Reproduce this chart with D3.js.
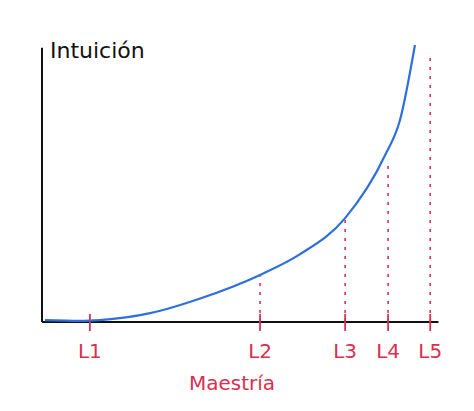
<!DOCTYPE html>
<html><head><meta charset="utf-8">
<script src="https://cdn.jsdelivr.net/npm/d3@7"></script>
<style>body{margin:0;background:#fff}</style>
</head><body>
<svg id="c" width="474" height="411"></svg>
<script>
// curve of intuition vs mastery, hand sketch
var curveX = [0.7, 9.2, 14, 26.2, 38.3, 52.8, 62.5, 73.4, 83, 86.7, 90.3];
var curveY = [0.7, 0.4, 0.7, 3.2, 8.5, 17, 24.5, 37.5, 60, 73, 100];
var levels = ['L1', 'L2', 'L3', 'L4', 'L5'];
var levelX = [11.6, 52.8, 73.4, 83.8, 94];
var levelTop = [0, 16.5, 38.5, 57, 97];

var svg = d3.select('#c'),
    x = d3.scaleLinear().domain([0, 100]).range([42, 455]),
    y = d3.scaleLinear().domain([0, 100]).range([322, 45]);

var red = '#d9304f';

// axes
svg.append('line').attr('x1', x(0)).attr('x2', x(0)).attr('y1', y(0)).attr('y2', y(99))
  .attr('stroke', '#111').attr('stroke-width', 2);
svg.append('line').attr('x1', x(0)).attr('x2', x(96)).attr('y1', y(0)).attr('y2', y(0))
  .attr('stroke', '#111').attr('stroke-width', 2);

// red dashed verticals
levels.forEach(function (l, i) {
  if (levelTop[i] > 0) {
    svg.append('line').attr('x1', x(levelX[i])).attr('x2', x(levelX[i]))
      .attr('y1', y(0)).attr('y2', y(levelTop[i]))
      .attr('stroke', red).attr('stroke-width', 1.6).attr('stroke-dasharray', '3,6');
  }
  svg.append('line').attr('x1', x(levelX[i])).attr('x2', x(levelX[i]))
    .attr('y1', y(0) - 8).attr('y2', y(0) + 9)
    .attr('stroke', red).attr('stroke-width', 1.8);
  svg.append('text').attr('x', x(levelX[i])).attr('y', 358)
    .attr('text-anchor', 'middle').attr('fill', red)
    .style('font', '20px "DejaVu Sans"').text(l);
});

// blue curve
var line = d3.line().x(function (d) { return x(d[0]); }).y(function (d) { return y(d[1]); })
  .curve(d3.curveMonotoneX);
svg.append('path').datum(d3.zip(curveX, curveY)).attr('d', line)
  .attr('fill', 'none').attr('stroke', '#2f6fdc').attr('stroke-width', 2.2);

svg.append('text').attr('x', 50).attr('y', 58).attr('fill', '#111')
  .style('font', '22px "DejaVu Sans"').text('Intuición');
svg.append('text').attr('x', 232).attr('y', 390).attr('text-anchor', 'middle').attr('fill', red)
  .style('font', '20px "DejaVu Sans"').text('Maestría');
</script>
</body></html>
